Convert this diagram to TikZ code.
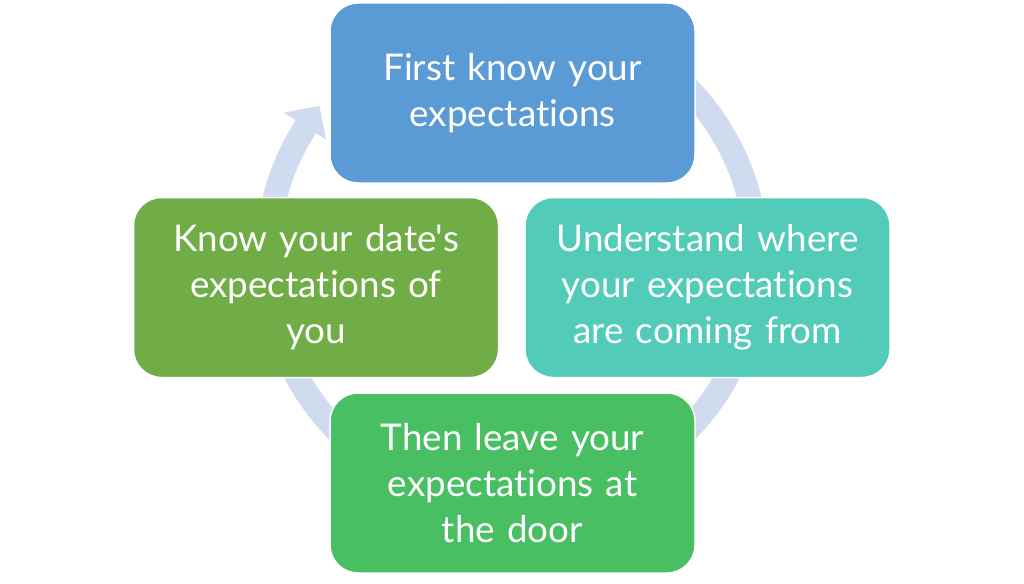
\documentclass[tikz,border=0pt]{standalone}
\usepackage{fontspec}
\setmainfont{Lato}[Ligatures={TeXOff,NoCommon,NoRare,NoContextual}]
\definecolor{ringc}{RGB}{208,219,239}
\definecolor{cblue}{RGB}{91,155,213}
\definecolor{cteal}{RGB}{82,203,184}
\definecolor{colive}{RGB}{112,173,71}
\definecolor{cgreen}{RGB}{72,191,99}
\tikzset{
  cyclebox/.style={rounded corners=28pt, draw=white, line width=1.5pt,
    minimum width=365pt, minimum height=180pt, inner sep=0pt,
    text width=360pt, align=center, text=white,
    font=\fontsize{36.8}{46}\selectfont}
}
\begin{document}
\begin{tikzpicture}[x=1pt,y=1pt]
\useasboundingbox (0,0) rectangle (1024,-583);
\coordinate (c) at (512,-259);
% ring
\draw[ringc, line width=24pt] ([shift={(125:245pt)}]c) arc[start angle=125, end angle=-213, radius=245pt];
\fill[ringc] ([shift={(147.3:271pt)}]c) -- ([shift={(141.5:246pt)}]c) -- ([shift={(147.3:221pt)}]c) -- cycle;
% boxes
\node[cyclebox, fill=cblue] (top) at (512.5,-93) {First know your\\expectations};
\node[cyclebox, fill=cteal] (right) at (707.5,-287.5) {Understand where\\your expectations\\are coming from};
\node[cyclebox, fill=colive] (left) at (316,-287.5) {Know your date's\\expectations of\\you};
\node[cyclebox, fill=cgreen] (bottom) at (512.5,-483) {Then leave your\\expectations at\\the door};
\end{tikzpicture}
\end{document}
